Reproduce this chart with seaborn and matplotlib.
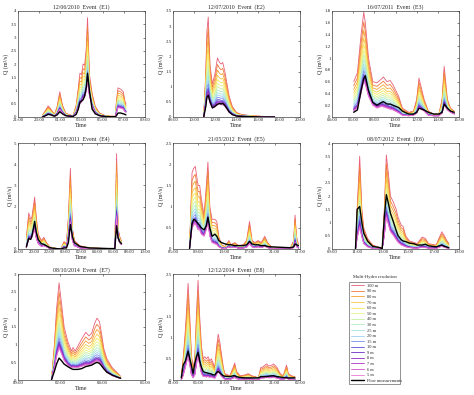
import numpy as np
import pandas as pd
import matplotlib
matplotlib.use("Agg")
import matplotlib.pyplot as plt
import seaborn as sns
from matplotlib.lines import Line2D

# ---------------- series definition ----------------
resolutions = ['100 m', '90 m', '80 m', '70 m', '60 m', '50 m', '40 m', '30 m', '25 m',
               '20 m', '15 m', '10 m', '9 m', '8 m', '7 m', '6 m', '5 m']
res_colors = ['#e8607a', '#f07a3a', '#f5a030', '#f8c848', '#f8e860', '#e8f488', '#c8f0a0',
              '#b0ecc0', '#a0e4e0', '#9cd0f0', '#7890e8', '#5a50d8', '#6a30c8', '#8a28c0',
              '#b030c8', '#d050c8', '#e878d0']
# relative position of each resolution between the 5 m and 100 m hydrographs (read from spread)
res_position = [1.0, 0.86, 0.74, 0.63, 0.54, 0.46, 0.39, 0.32, 0.26, 0.21, 0.16, 0.11,
                0.08, 0.06, 0.04, 0.02, 0.0]
obs_label = 'Flow measurements'

# ---------------- E1 ----------------
e1_title = '12/06/2010  Event  (E1)'
e1_time = [23.3, 23.6, 23.85, 24.1, 24.45, 24.7, 24.95, 25.2, 25.5, 25.9, 26.2, 26.5, 26.7, 26.85,
           27.0, 27.15, 27.3, 27.45, 27.57, 27.75, 28.0, 28.3, 28.7, 29.2, 29.7, 30.2, 30.3, 30.45,
           30.7, 30.95, 31.1, 31.2]
e1_q100 = [0.05, 0.25, 0.42, 0.3, 0.1, 0.4, 0.95, 0.45, 0.15, 0.08, 0.05, 0.45, 1.1, 1.65, 1.6, 2.0,
           1.95, 2.6, 3.75, 1.6, 0.9, 0.4, 0.15, 0.06, 0.03, 0.03, 0.6, 1.1, 1.05, 0.95, 0.6, 0.5]
e1_q5 = [0.0, 0.05, 0.1, 0.08, 0.03, 0.1, 0.28, 0.15, 0.05, 0.03, 0.02, 0.15, 0.35, 0.5, 0.55, 0.7,
         0.75, 0.95, 1.35, 0.8, 0.4, 0.15, 0.05, 0.02, 0.01, 0.01, 0.15, 0.35, 0.33, 0.3, 0.2, 0.18]
e1_obs = [0.0, 0.05, 0.1, 0.08, 0.03, 0.08, 0.2, 0.12, 0.05, 0.03, 0.02, 0.1, 0.3, 0.55, 0.6, 0.65,
          0.8, 1.1, 1.65, 1.0, 0.3, 0.12, 0.05, 0.02, 0.01, 0.01, 0.05, 0.15, 0.15, 0.12, 0.1, 0.08]
e1_xticks = [21, 23, 25, 27, 29, 31, 33]
e1_xlabels = ['21:00', '23:00', '01:00', '03:00', '05:00', '07:00', '09:00']
e1_yticks = [0, 0.5, 1, 1.5, 2, 2.5, 3, 3.5, 4]

# ---------------- E2 ----------------
e2_title = '12/07/2010  Event  (E2)'
e2_time = [10.9, 11.1, 11.2, 11.33, 11.5, 11.72, 11.95, 12.2, 12.4, 12.55, 12.7, 12.9, 13.1, 13.3,
           13.6, 14.0, 14.5, 15.5, 16.5, 17.6]
e2_q100 = [0.0, 1.5, 2.8, 3.3, 1.7, 1.1, 1.4, 1.95, 1.8, 1.75, 1.8, 1.5, 1.1, 0.7, 0.35, 0.15, 0.08,
           0.04, 0.02, 0.01]
e2_q5 = [0.0, 0.4, 0.6, 0.68, 0.45, 0.3, 0.32, 0.4, 0.42, 0.4, 0.4, 0.35, 0.25, 0.15, 0.08, 0.03,
         0.02, 0.01, 0.0, 0.0]
e2_obs = [0.0, 0.35, 0.65, 0.72, 0.5, 0.3, 0.35, 0.42, 0.45, 0.43, 0.45, 0.38, 0.28, 0.17, 0.08,
          0.03, 0.02, 0.01, 0.0, 0.0]
e2_xticks = [8, 10, 12, 14, 16, 18, 20]
e2_xlabels = ['08:00', '10:00', '12:00', '14:00', '16:00', '18:00', '20:00']
e2_yticks = [0, 0.5, 1, 1.5, 2, 2.5, 3, 3.5]

# ---------------- E3 ----------------
e3_title = '16/07/2011  Event  (E3)'
e3_time = [6.05, 6.4, 6.75, 7.0, 7.15, 7.45, 7.85, 8.25, 8.7, 8.85, 9.2, 9.5, 9.75, 10.3, 10.65,
           11.25, 11.7, 12.0, 12.22, 12.7, 13.1, 13.6, 14.1, 14.4, 14.6, 14.9, 15.2, 15.55]
e3_q100 = [0.6, 0.75, 1.4, 1.78, 1.6, 1.0, 0.6, 0.58, 0.65, 0.68, 0.6, 0.62, 0.55, 0.35, 0.15, 0.08,
           0.1, 0.3, 0.66, 0.3, 0.1, 0.05, 0.05, 0.3, 0.86, 0.3, 0.15, 0.1]
e3_q5 = [0.1, 0.15, 0.4, 0.6, 0.55, 0.35, 0.2, 0.15, 0.18, 0.17, 0.15, 0.13, 0.12, 0.07, 0.03, 0.02,
         0.03, 0.06, 0.15, 0.1, 0.03, 0.02, 0.02, 0.06, 0.2, 0.12, 0.08, 0.05]
e3_obs = [0.08, 0.12, 0.45, 0.65, 0.7, 0.45, 0.25, 0.2, 0.25, 0.26, 0.22, 0.22, 0.2, 0.16, 0.1, 0.05,
          0.05, 0.08, 0.15, 0.12, 0.08, 0.05, 0.05, 0.08, 0.22, 0.15, 0.1, 0.08]
e3_xticks = [4, 6, 8, 10, 12, 14, 16]
e3_xlabels = ['04:00', '06:00', '08:00', '10:00', '12:00', '14:00', '16:00']
e3_yticks = [0, 0.2, 0.4, 0.6, 0.8, 1, 1.2, 1.4, 1.6, 1.8]

# ---------------- E4 ----------------
e4_title = '05/08/2011  Event  (E4)'
e4_time = [19.05, 19.35, 19.6, 19.75, 20.1, 20.3, 20.55, 20.95, 21.25, 21.6, 22.0, 22.8, 23.4, 23.8,
           24.1, 24.35, 24.6, 24.85, 25.1, 25.8, 27.0, 29.5, 30.2, 30.42, 30.6, 30.8, 31.05]
e4_q100 = [0.5, 1.7, 1.4, 1.5, 2.45, 1.5, 0.7, 0.4, 0.55, 0.3, 0.1, 0.03, 0.0, 0.35, 0.25, 1.5, 3.8,
           1.0, 0.4, 0.15, 0.05, 0.02, 0.03, 4.5, 1.0, 0.6, 0.35]
e4_q5 = [0.05, 0.45, 0.5, 0.55, 0.9, 0.5, 0.25, 0.12, 0.15, 0.1, 0.03, 0.01, 0.0, 0.08, 0.05, 0.5,
         1.25, 0.4, 0.15, 0.05, 0.02, 0.01, 0.01, 1.5, 0.5, 0.3, 0.2]
e4_obs = [0.1, 0.5, 0.45, 0.6, 1.3, 0.8, 0.45, 0.25, 0.22, 0.15, 0.06, 0.02, 0.0, 0.05, 0.05, 0.3,
          1.15, 0.6, 0.3, 0.12, 0.05, 0.02, 0.02, 1.1, 0.55, 0.35, 0.25]
e4_xticks = [18, 20, 22, 24, 26, 28, 30, 32, 34]
e4_xlabels = ['18:00', '20:00', '22:00', '00:00', '02:00', '04:00', '06:00', '08:00', '10:00']
e4_yticks = [0, 1, 2, 3, 4, 5]

# ---------------- E5 ----------------
e5_title = '21/05/2012  Event  (E5)'
e5_time = [7.6, 8.0, 8.25, 8.5, 8.95, 9.2, 9.45, 9.9, 10.25, 10.5, 10.8, 11.15, 11.6, 11.9, 12.2,
           12.65, 13.2, 13.8, 14.1, 14.75, 15.3, 16.05, 16.6, 17.05, 17.45, 17.9, 18.4, 18.9, 19.45,
           19.9, 20.5, 22.0, 23.5, 24.0, 24.22, 24.45, 24.75]
e5_q100 = [0.0, 1.8, 1.9, 1.95, 1.5, 1.5, 1.2, 0.8, 1.5, 2.05, 1.0, 0.7, 0.7, 0.65, 0.3, 0.1, 0.05,
           0.2, 0.1, 0.15, 0.08, 0.1, 0.2, 0.65, 0.2, 0.15, 0.2, 0.15, 0.3, 0.15, 0.05, 0.03, 0.03,
           0.2, 0.8, 0.3, 0.1]
e5_q5 = [0.0, 0.5, 0.55, 0.6, 0.45, 0.45, 0.35, 0.3, 0.45, 0.6, 0.3, 0.15, 0.12, 0.1, 0.05, 0.02,
         0.01, 0.05, 0.03, 0.04, 0.02, 0.02, 0.04, 0.12, 0.05, 0.03, 0.05, 0.03, 0.06, 0.03, 0.01,
         0.0, 0.0, 0.03, 0.15, 0.05, 0.02]
e5_obs = [0.0, 0.6, 0.7, 0.68, 0.6, 0.55, 0.5, 0.45, 0.55, 0.75, 0.5, 0.3, 0.35, 0.3, 0.2, 0.15,
          0.12, 0.1, 0.1, 0.08, 0.08, 0.08, 0.1, 0.18, 0.12, 0.1, 0.1, 0.08, 0.08, 0.06, 0.05, 0.04,
          0.03, 0.05, 0.12, 0.1, 0.08]
e5_xticks = [5, 9, 13, 17, 21, 25]
e5_xlabels = ['05:00', '09:00', '13:00', '17:00', '21:00', '01:00']
e5_yticks = [0, 0.5, 1, 1.5, 2, 2.5]

# ---------------- E6 ----------------
e6_title = '08/07/2012  Event  (E6)'
e6_time = [10.85, 10.98, 11.18, 11.35, 11.5, 11.8, 12.2, 12.8, 12.95, 13.12, 13.28, 13.45, 13.6,
           13.85, 14.05, 14.2, 14.45, 14.6, 14.8, 15.1, 15.45, 15.7, 16.1, 16.35, 16.6, 17.2, 17.65,
           17.85, 18.0, 18.2]
e6_q100 = [0.0, 1.5, 3.5, 1.5, 0.8, 0.4, 0.15, 0.05, 0.0, 1.5, 3.55, 2.8, 2.0, 1.75, 1.5, 1.2, 0.9,
           0.85, 0.5, 0.3, 0.25, 0.2, 0.45, 0.4, 0.2, 0.15, 0.65, 0.5, 0.35, 0.2]
e6_q5 = [0.0, 0.4, 0.8, 0.45, 0.2, 0.08, 0.02, 0.0, 0.0, 0.5, 1.2, 0.9, 0.65, 0.5, 0.35, 0.25, 0.15,
         0.12, 0.08, 0.05, 0.03, 0.03, 0.06, 0.05, 0.03, 0.02, 0.1, 0.06, 0.04, 0.02]
e6_obs = [0.0, 1.5, 1.6, 1.0, 0.6, 0.3, 0.1, 0.05, 0.0, 1.2, 2.05, 1.7, 1.35, 1.0, 0.7, 0.5, 0.35,
          0.3, 0.28, 0.22, 0.2, 0.15, 0.15, 0.18, 0.12, 0.08, 0.15, 0.1, 0.08, 0.05]
e6_xticks = [9, 11, 13, 15, 17, 19]
e6_xlabels = ['09:00', '11:00', '13:00', '15:00', '17:00', '19:00']
e6_yticks = [0, 0.5, 1, 1.5, 2, 2.5, 3, 3.5, 4]

# ---------------- E7 ----------------
e7_title = '08/10/2014  Event  (E7)'
e7_time = [1.58, 1.72, 1.82, 1.94, 2.05, 2.18, 2.35, 2.52, 2.6, 2.7, 2.82, 3.0, 3.2, 3.35, 3.48,
           3.62, 3.73, 3.85, 3.95, 4.05, 4.2, 4.45, 4.7, 4.85]
e7_q100 = [0.0, 1.0, 2.0, 2.75, 2.2, 1.5, 1.1, 0.82, 0.92, 0.82, 0.95, 1.15, 1.35, 1.25, 1.32, 1.6,
           1.75, 1.65, 1.3, 0.9, 0.6, 0.35, 0.2, 0.1]
e7_q5 = [0.0, 0.35, 0.65, 0.9, 0.75, 0.55, 0.42, 0.35, 0.36, 0.35, 0.35, 0.38, 0.42, 0.42, 0.45,
         0.5, 0.52, 0.5, 0.42, 0.32, 0.22, 0.12, 0.07, 0.04]
e7_obs = [0.0, 0.25, 0.45, 0.62, 0.55, 0.45, 0.38, 0.32, 0.3, 0.3, 0.3, 0.32, 0.38, 0.4, 0.42, 0.47,
          0.5, 0.47, 0.4, 0.32, 0.22, 0.14, 0.08, 0.05]
e7_xticks = [0, 2, 4, 6]
e7_xlabels = ['00:00', '02:00', '04:00', '06:00']
e7_yticks = [0, 0.5, 1, 1.5, 2, 2.5, 3]

# ---------------- E8 ----------------
e8_title = '12/12/2014  Event  (E8)'
e8_time = [2.63, 3.0, 3.45, 3.97, 4.3, 4.62, 4.95, 5.3, 5.6, 5.93, 6.25, 6.6, 6.95, 7.25, 7.6, 7.9,
           8.25, 8.55, 8.9, 9.25, 9.6, 9.9, 10.2, 10.55, 10.9, 11.2, 12.2, 12.85, 13.15, 13.5, 14.2,
           15.2, 15.8, 16.5, 17.2, 17.8, 18.3, 18.6, 19.1, 19.45, 19.8, 20.45, 20.8, 21.45, 22.1,
           22.7, 23.35, 23.7, 24.3, 25.0]
e8_q100 = [0.1, 0.5, 1.2, 2.28, 1.5, 0.6, 0.3, 0.5, 1.5, 2.35, 1.5, 0.8, 0.5, 0.55, 0.5, 0.55, 0.45,
           0.5, 0.4, 0.3, 0.8, 1.08, 0.9, 0.6, 0.3, 0.15, 0.1, 0.3, 0.4, 0.2, 0.1, 0.12, 0.15, 0.1,
           0.08, 0.05, 0.3, 0.3, 0.35, 0.38, 0.33, 0.35, 0.38, 0.3, 0.15, 0.1, 0.35, 0.15, 0.1, 0.08]
e8_q5 = [0.0, 0.1, 0.3, 0.55, 0.35, 0.12, 0.05, 0.12, 0.35, 0.55, 0.35, 0.15, 0.08, 0.08, 0.07,
         0.08, 0.06, 0.07, 0.05, 0.04, 0.12, 0.2, 0.15, 0.08, 0.04, 0.02, 0.01, 0.04, 0.06, 0.03,
         0.01, 0.02, 0.02, 0.01, 0.01, 0.0, 0.04, 0.04, 0.05, 0.06, 0.05, 0.05, 0.06, 0.04, 0.02,
         0.01, 0.05, 0.02, 0.01, 0.01]
e8_obs = [0.05, 0.35, 0.45, 0.68, 0.5, 0.35, 0.15, 0.4, 0.55, 0.65, 0.45, 0.3, 0.2, 0.18, 0.17,
          0.16, 0.15, 0.14, 0.12, 0.12, 0.18, 0.2, 0.17, 0.13, 0.1, 0.09, 0.08, 0.1, 0.1, 0.08, 0.06,
          0.05, 0.05, 0.05, 0.05, 0.05, 0.08, 0.08, 0.08, 0.08, 0.09, 0.1, 0.1, 0.08, 0.07, 0.06,
          0.05, 0.05, 0.05, 0.05]
e8_xticks = [1, 6, 11, 16, 21, 26]
e8_xlabels = ['01:00', '06:00', '11:00', '16:00', '21:00', '02:00']
e8_yticks = [0, 0.5, 1, 1.5, 2, 2.5]

panels = [
    (e1_title, e1_time, e1_q100, e1_q5, e1_obs, e1_xticks, e1_xlabels, e1_yticks),
    (e2_title, e2_time, e2_q100, e2_q5, e2_obs, e2_xticks, e2_xlabels, e2_yticks),
    (e3_title, e3_time, e3_q100, e3_q5, e3_obs, e3_xticks, e3_xlabels, e3_yticks),
    (e4_title, e4_time, e4_q100, e4_q5, e4_obs, e4_xticks, e4_xlabels, e4_yticks),
    (e5_title, e5_time, e5_q100, e5_q5, e5_obs, e5_xticks, e5_xlabels, e5_yticks),
    (e6_title, e6_time, e6_q100, e6_q5, e6_obs, e6_xticks, e6_xlabels, e6_yticks),
    (e7_title, e7_time, e7_q100, e7_q5, e7_obs, e7_xticks, e7_xlabels, e7_yticks),
    (e8_title, e8_time, e8_q100, e8_q5, e8_obs, e8_xticks, e8_xlabels, e8_yticks),
]

# ---------------- styling ----------------
sns.set_theme(style='white')
plt.rcParams['font.family'] = ['Liberation Serif', 'DejaVu Serif']
plt.rcParams['axes.linewidth'] = 0.5
plt.rcParams['axes.edgecolor'] = '#404040'

W, H = 474, 395
fig = plt.figure(figsize=(W / 100, H / 100), dpi=100)
col_left = [18, 173, 332]
row_top = [11, 143, 274]
ax_w, ax_h = 127, 106

palette = dict(zip(resolutions, res_colors))

for i, (title, t, qhi, qlo, qobs, xt, xl, yt) in enumerate(panels):
    r, c = divmod(i, 3)
    ax = fig.add_axes([col_left[c] / W, 1 - (row_top[r] + ax_h) / H, ax_w / W, ax_h / H])
    hi = np.asarray(qhi, float)
    lo = np.asarray(qlo, float)
    frames = []
    for name, w in zip(resolutions, res_position):
        frames.append(pd.DataFrame({'Time': t, 'Q': lo + w * (hi - lo), 'series': name}))
    df = pd.concat(frames, ignore_index=True)
    sns.lineplot(data=df, x='Time', y='Q', hue='series', hue_order=resolutions,
                 palette=palette, lw=0.6, legend=False, ax=ax, estimator=None, sort=False)
    sns.lineplot(x=t, y=qobs, color='black', lw=1.0, ax=ax, estimator=None, sort=False)
    ax.set_xlim(xt[0], xt[-1])
    ax.set_ylim(yt[0], yt[-1])
    ax.set_xticks(xt)
    ax.set_xticklabels(xl)
    ax.set_yticks(yt)
    ax.set_yticklabels([f'{v:g}' for v in yt])
    ax.tick_params(direction='in', top=True, right=True, length=1.5, width=0.4,
                   labelsize=3.5, pad=1)
    ax.set_title(title, fontsize=4.2, pad=2)
    ax.set_xlabel('Time', fontsize=4.3, labelpad=0.5)
    ax.set_ylabel('Q (m³/s)', fontsize=4.3, labelpad=1)
    for s in ax.spines.values():
        s.set_linewidth(0.5)
        s.set_color('#404040')

# legend panel
lax = fig.add_axes([349 / W, 1 - 381 / H, 51 / W, 99 / H])
lax.axis('off')
handles = [Line2D([0], [0], color=cc, lw=0.6) for cc in res_colors]
handles.append(Line2D([0], [0], color='black', lw=1.0))
labels = resolutions + [obs_label]
leg = lax.legend(handles, labels, loc='upper left', bbox_to_anchor=(0, 0, 1, 1), mode='expand',
                 fontsize=3.2, frameon=True, fancybox=False, edgecolor='#404040',
                 handlelength=3.0, handletextpad=0.6, labelspacing=0.33, borderpad=0.4,
                 borderaxespad=0)
leg.get_frame().set_linewidth(0.5)
fig.text(374.5 / W, 1 - 277 / H, 'Multi-Hydro resolution', ha='center', va='center', fontsize=3.3)

fig.savefig('out.png', dpi=100)
